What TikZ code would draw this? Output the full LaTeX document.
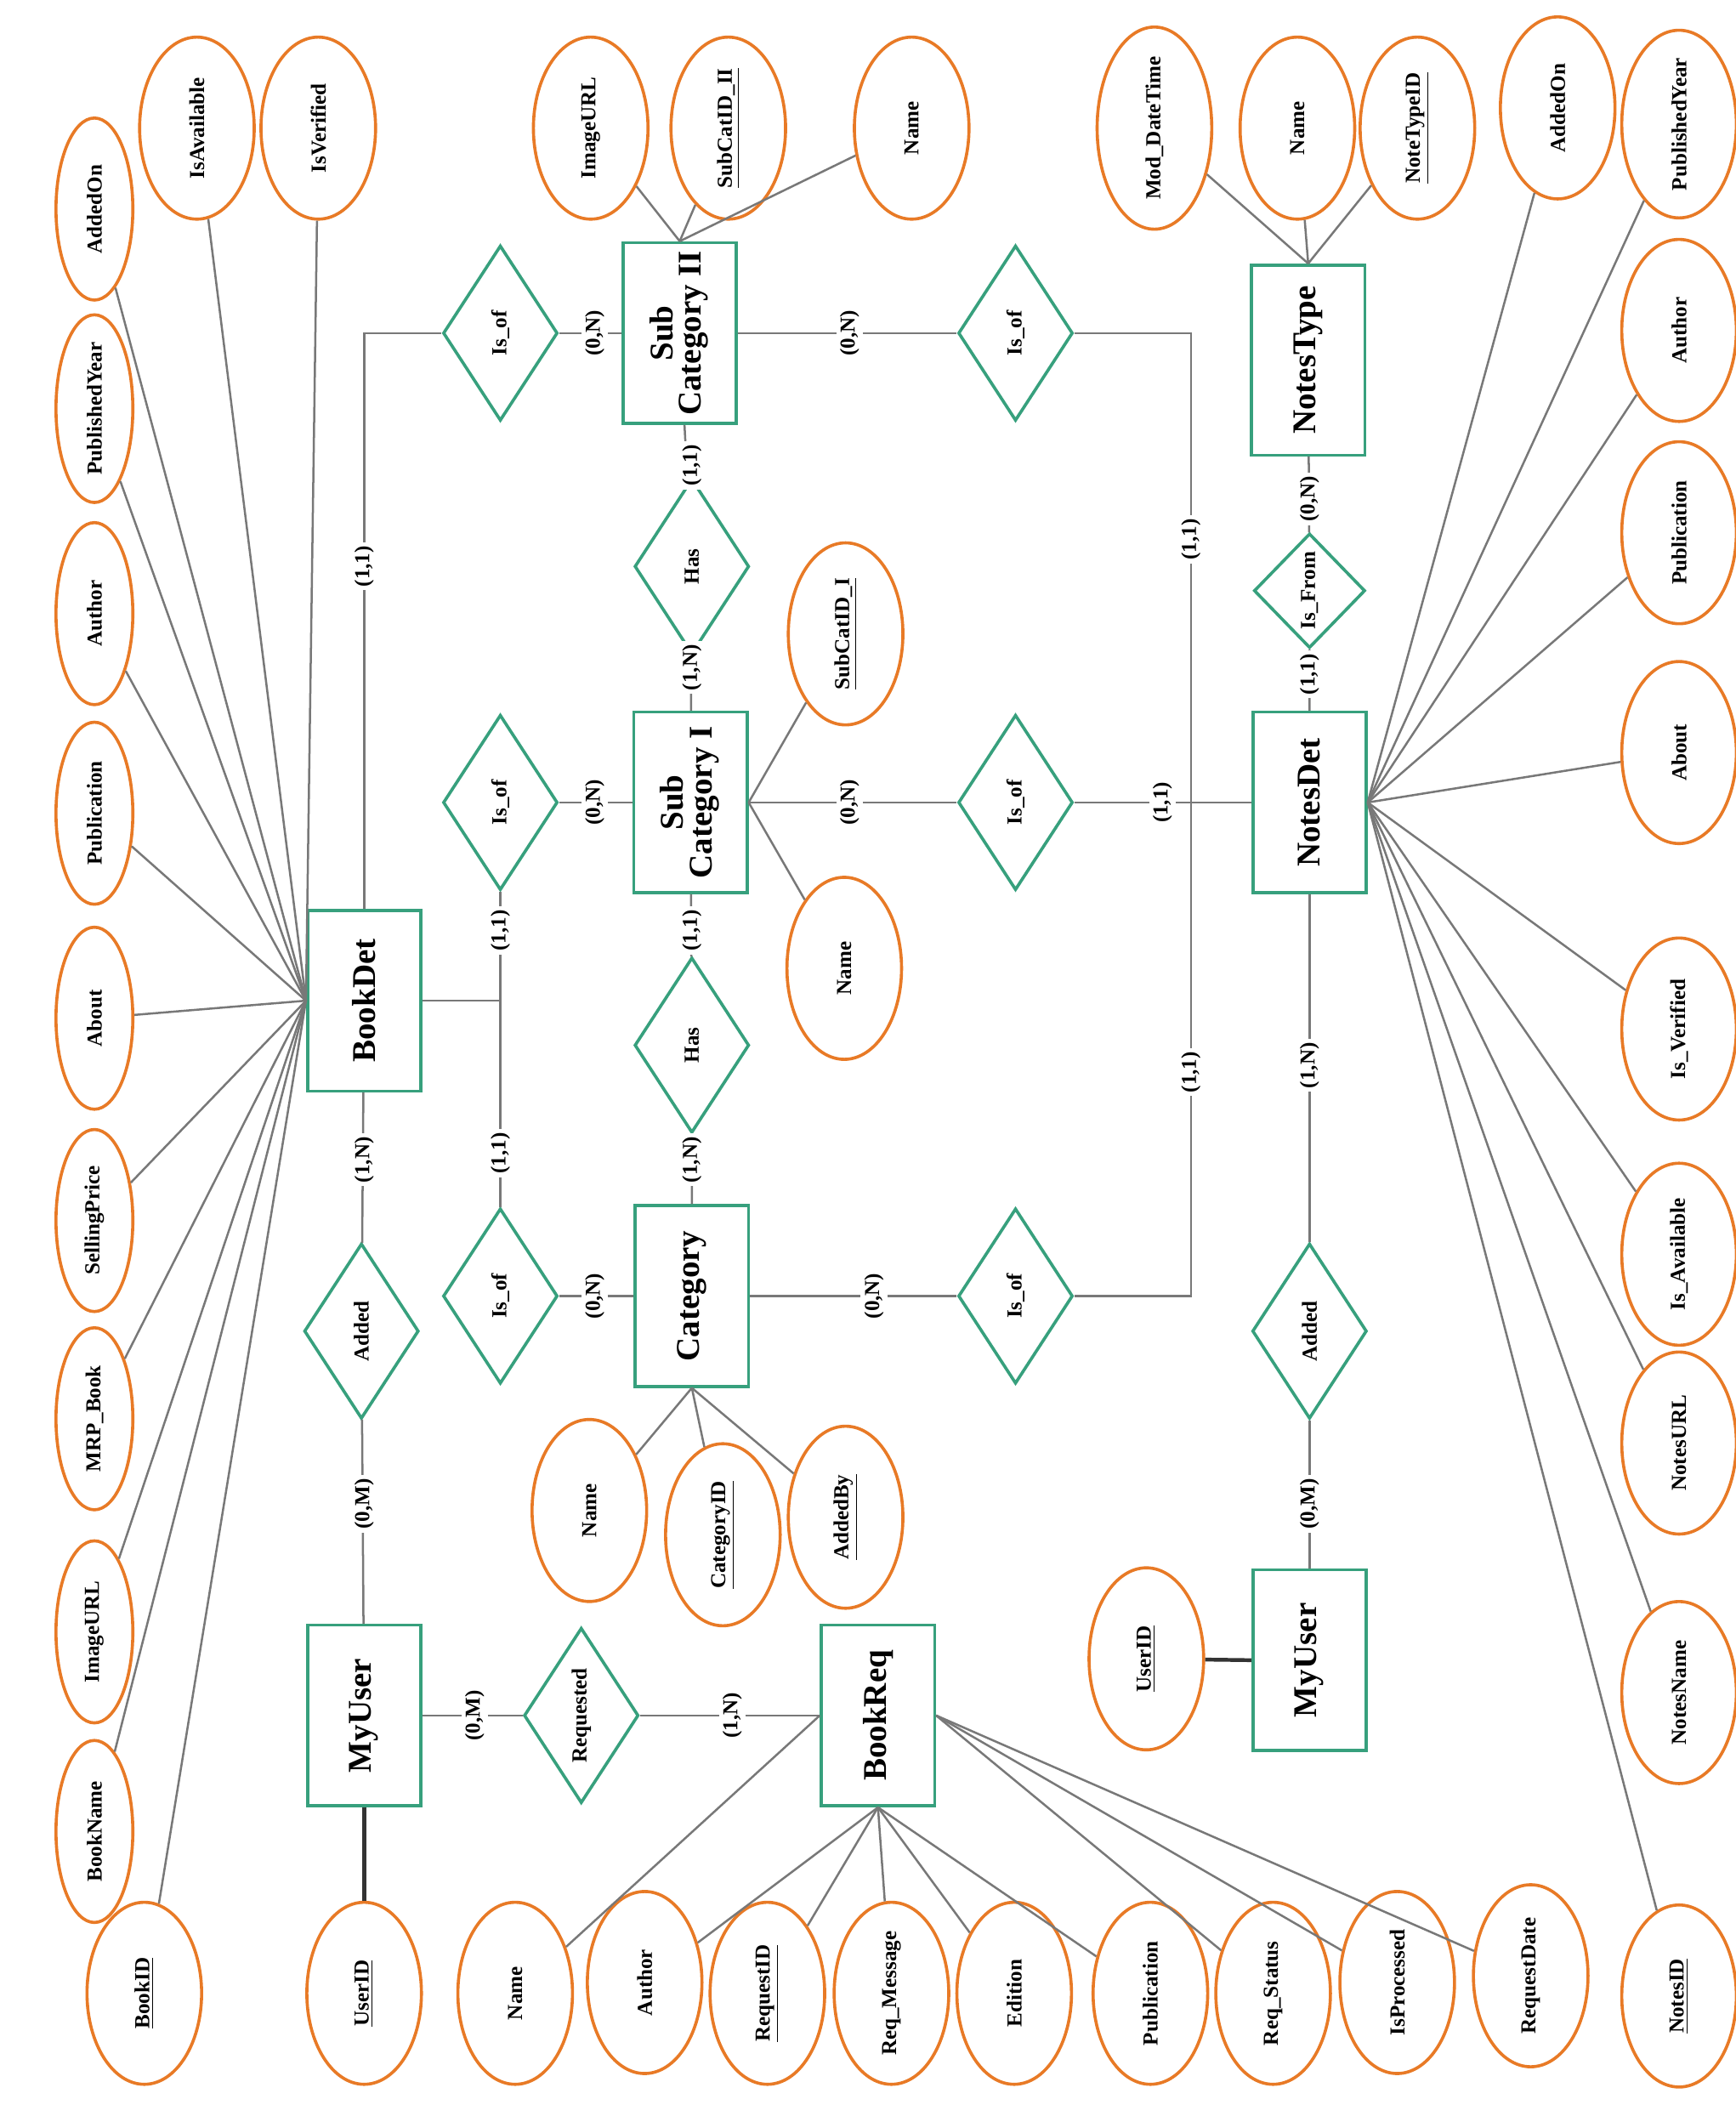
\documentclass[tikz,border=0pt]{standalone}
\usepackage{fontspec}
\setmainfont{Liberation Serif}
\usetikzlibrary{shapes.geometric}
\definecolor{tealc}{RGB}{55,160,125}
\definecolor{orc}{RGB}{232,122,38}
\definecolor{lnc}{RGB}{120,120,120}
\begin{document}
\begin{tikzpicture}[x=0.02cm,y=-0.02cm,
 ent/.style={draw=tealc,line width=1.3pt,minimum width=1.68cm,minimum height=2.68cm,font=\bfseries\fontsize{14}{15}\selectfont,inner sep=0pt},
 rel/.style={diamond,draw=tealc,line width=1.3pt,minimum width=1.7cm,minimum height=2.6cm,inner sep=0pt,font=\bfseries\fontsize{9}{10}\selectfont},
 attr/.style={ellipse,draw=orc,line width=1.3pt,minimum width=1.7cm,minimum height=2.7cm,inner sep=0pt,font=\bfseries\fontsize{9}{10}\selectfont},
 nattr/.style={attr,minimum width=1.14cm},
 card/.style={fill=white,inner sep=1.5pt,font=\bfseries\fontsize{9}{10}\selectfont},
 ln/.style={draw=lnc,line width=0.9pt}]
\useasboundingbox (0,0) rectangle (1287,1569);
% entities
\node[ent] (BookDet) at (270,742) {\rotatebox{90}{BookDet}};
\node[ent] (SC2) at (504,247) {\rotatebox{90}{\begin{tabular}{@{}c@{}}Sub\\[-3pt]Category II\end{tabular}}};
\node[ent] (SC1) at (512,595) {\rotatebox{90}{\begin{tabular}{@{}c@{}}Sub\\[-3pt]Category I\end{tabular}}};
\node[ent] (Cat) at (513,961) {\rotatebox{90}{Category}};
\node[ent,minimum height=2.82cm] (NT) at (970,267) {\rotatebox{90}{NotesType}};
\node[ent] (ND) at (971,595) {\rotatebox{90}{NotesDet}};
\node[ent] (MU1) at (270,1272) {\rotatebox{90}{MyUser}};
\node[ent] (BR) at (651,1272) {\rotatebox{90}{BookReq}};
\node[ent] (MU2) at (971,1231) {\rotatebox{90}{MyUser}};
% relations
\node[rel] (R1) at (371,247) {\rotatebox{90}{Is\_of}};
\node[rel] (R2) at (371,595) {\rotatebox{90}{Is\_of}};
\node[rel] (R3) at (371,961) {\rotatebox{90}{Is\_of}};
\node[rel] (H1) at (513,420) {\rotatebox{90}{Has}};
\node[rel] (H2) at (513,775) {\rotatebox{90}{Has}};
\node[rel] (R4) at (753,247) {\rotatebox{90}{Is\_of}};
\node[rel] (R5) at (753,595) {\rotatebox{90}{Is\_of}};
\node[rel] (R6) at (753,961) {\rotatebox{90}{Is\_of}};
\node[rel,minimum width=1.65cm,minimum height=1.7cm] (IF) at (971,438) {\rotatebox{90}{Is\_From}};
\node[rel] (A1) at (268,987) {\rotatebox{90}{Added}};
\node[rel] (A2) at (971,987) {\rotatebox{90}{Added}};
\node[rel] (RQ) at (431,1272) {\rotatebox{90}{Requested}};
% attributes (left column, narrower)
\foreach \n/\x/\y/\t in {
 b1/70/155/AddedOn, b2/70/303/PublishedYear, b3/70/455/Author, b4/70/603/Publication,
 b5/70/755/About, b6/70/905/SellingPrice, b7/70/1052/MRP\_Book, b8/70/1210/ImageURL,
 b9/70/1358/BookName}
 \node[nattr] (\n) at (\x,\y) {\rotatebox{90}{\t}};
\foreach \n/\x/\y/\t in {
 b10/107/1478/\underline{BookID}, b11/146/95/IsAvailable, b12/236/95/IsVerified,
 s1/438/95/ImageURL, s2/540/95/\underline{SubCatID\_II}, s3/676/95/Name,
 s4/627/470/\underline{SubCatID\_I}, s5/626/718/Name,
 c1/437/1120/Name, c2/536/1138/\underline{CategoryID}, c3/627/1125/\underline{AddedBy},
 t1/856/95/Mod\_DateTime, t2/962/95/Name, t3/1051/95/\underline{NoteTypeID},
 n0/1155/80/AddedOn, n1/1245/92/PublishedYear, n2/1245/245/Author, n3/1245/395/Publication,
 n4/1245/558/About, n5/1245/763/Is\_Verified, n6/1245/930/Is\_Available, n7/1245/1070/NotesURL,
 n8/1245/1255/NotesName, n9/1245/1480/\underline{NotesID},
 u2/850/1230/\underline{UserID}, u1/270/1478/\underline{UserID},
 q1/382/1478/Name, q2/478/1470/Author, q3/569/1478/\underline{RequestID}, q4/661/1478/Req\_Message,
 q5/752/1478/Edition, q6/853/1478/Publication, q7/944/1478/Req\_Status, q8/1036/1470/IsProcessed,
 q9/1135/1465/RequestDate}
 \node[attr] (\n) at (\x,\y) {\rotatebox{90}{\t}};
% attribute lines
\foreach \n in {b1,b2,b3,b4,b5,b6,b7,b8,b9,b10,b11,b12} \draw[ln] (BookDet.west) -- (\n);
\foreach \n in {s1,s2,s3} \draw[ln] (SC2.north) -- (\n);
\foreach \n in {s4,s5} \draw[ln] (SC1.east) -- (\n);
\foreach \n in {c1,c2,c3} \draw[ln] (Cat.south) -- (\n);
\foreach \n in {t1,t2,t3} \draw[ln] (NT.north) -- (\n);
\foreach \n in {n0,n1,n2,n3,n4,n5,n6,n7,n8,n9} \draw[ln] (ND.east) -- (\n);
\draw[ln] (BR.west) -- (q1);
\foreach \n in {q2,q3,q4,q5,q6} \draw[ln] (BR.south) -- (\n);
\foreach \n in {q7,q8,q9} \draw[ln] (BR.east) -- (\n);
\draw[draw=black!80,line width=1.6pt] (MU1.south) -- (u1);
\draw[draw=black!80,line width=1.6pt] (MU2.west) -- (u2);
% relationship lines
\draw[ln] (BookDet.north) |- (R1.west);
\draw[ln] (R1) -- (SC2);
\draw[ln] (R2.south) -- (R3.north);
\draw[ln] (BookDet.east) -- (371,742);
\draw[ln] (R2) -- (SC1);
\draw[ln] (R3) -- (Cat);
\draw[ln] (SC2) -- (H1) -- (SC1) -- (H2) -- (Cat);
\draw[ln] (SC2) -- (R4);
\draw[ln] (SC1) -- (R5) -- (ND);
\draw[ln] (Cat) -- (R6);
\draw[ln] (R4.east) -- (883,247) -- (883,961) -- (R6.east);
\draw[ln] (ND) -- (IF) -- (NT);
\draw[ln] (ND) -- (A2) -- (MU2);
\draw[ln] (BookDet) -- (A1) -- (MU1);
\draw[ln] (MU1) -- (RQ) -- (BR);
% cardinalities
\foreach \x/\y/\t in {270/420/{(1,1)}, 441/247/{(0,N)}, 371/690/{(1,1)}, 371/855/{(1,1)},
 441/595/{(0,N)}, 441/961/{(0,N)}, 513/345/{(1,1)}, 513/495/{(1,N)}, 513/690/{(1,1)}, 513/860/{(1,N)},
 630/247/{(0,N)}, 883/400/{(1,1)}, 883/795/{(1,1)}, 862/595/{(1,1)}, 630/595/{(0,N)}, 648/961/{(0,N)},
 971/500/{(1,1)}, 971/370/{(0,N)}, 971/790/{(1,N)}, 971/1115/{(0,M)}, 270/860/{(1,N)}, 270/1115/{(0,M)},
 352/1272/{(0,M)}, 543/1272/{(1,N)}}
 \node[card] at (\x,\y) {\rotatebox{90}{\t}};
\end{tikzpicture}
\end{document}
